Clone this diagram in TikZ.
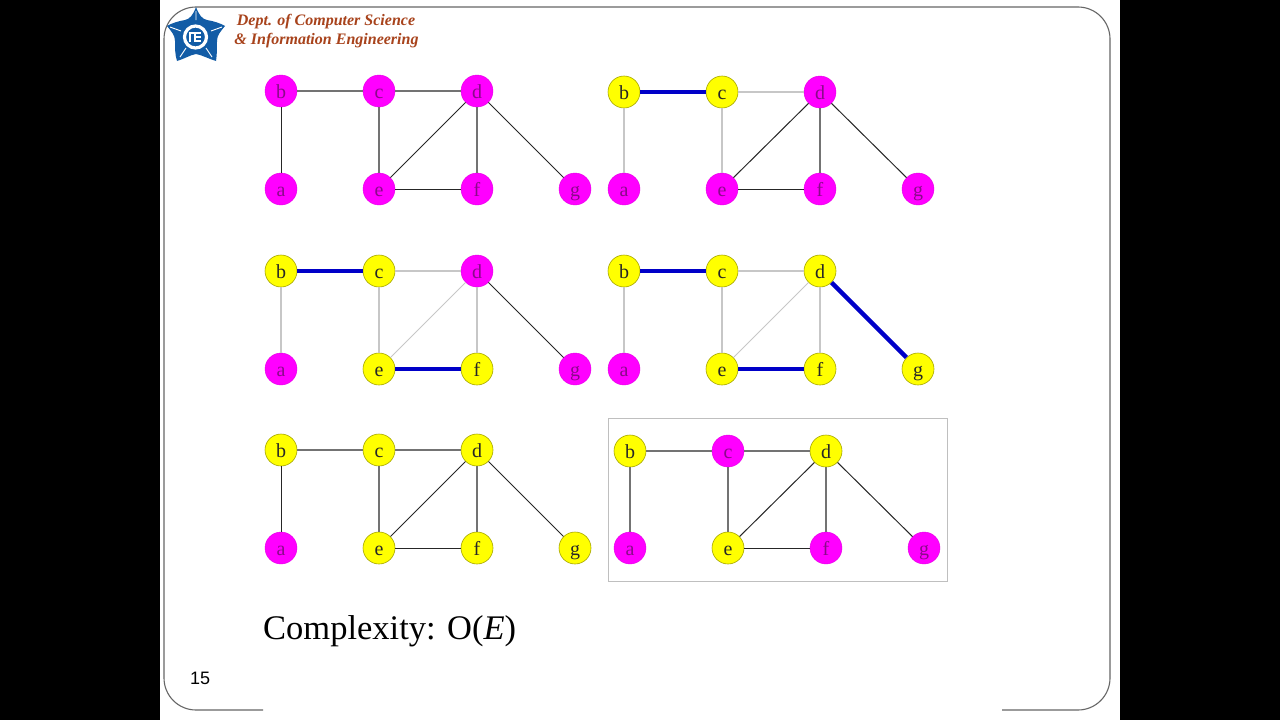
\documentclass[tikz,border=0pt]{standalone}
\usepackage{fontspec}
\setmainfont{Liberation Serif}
\newfontfamily\numfont{Liberation Sans}
\definecolor{vmag}{HTML}{FF00FF}
\definecolor{vyel}{HTML}{FFFF00}
\definecolor{vblue}{HTML}{0000C8}
\definecolor{magtext}{HTML}{8A0A8A}
\definecolor{logoblue}{HTML}{125CA6}
\definecolor{depttext}{HTML}{A8431C}
\tikzset{
  magv/.style={circle, fill=vmag, draw=vmag!90!black, line width=0.4pt, minimum size=32pt, inner sep=0pt, text=magtext, text height=14pt, text depth=0pt, font=\fontsize{20}{20}\selectfont},
  yelv/.style={circle, fill=vyel, draw=vyel!65!black, line width=0.6pt, minimum size=32pt, inner sep=0pt, text=black!85, text height=14pt, text depth=0pt, font=\fontsize{20}{20}\selectfont},
  darkedge/.style={draw=black!85, line width=1pt},
  greyedge/.style={draw=black!55, line width=1.5pt},
  paleedge/.style={draw=black!22, line width=1.2pt},
  blueedge/.style={draw=vblue, line width=4.5pt},
  depthead/.style={anchor=base, text=depttext, font=\fontsize{16}{16}\selectfont\bfseries\itshape}
}
\begin{document}
\begin{tikzpicture}[x=1pt,y=-1pt]
\useasboundingbox (0,0) rectangle (1280,720);
%--- PAGE ---
\fill[white] (0,0) rectangle (1280,720);
\fill[black] (0,0) rectangle (160,720);
\fill[black] (1120,0) rectangle (1280,720);
\draw[black!60, line width=1.1pt, rounded corners=32pt] (263,710) -- (164,710) -- (164,7) -- (1110,7) -- (1110,710) -- (1002,710);

%--- LOGO ---
\fill[logoblue] (196,7) .. controls (199,15) and (202,19) .. (207,20)
  .. controls (213,21) and (220,23) .. (225,26)
  .. controls (221,31) and (217,35) .. (217,41)
  .. controls (217,48) and (217,55) .. (216,61)
  .. controls (209,59) and (202,55) .. (196,54)
  .. controls (190,55) and (184,59) .. (177,61)
  .. controls (175,55) and (175,48) .. (175,41)
  .. controls (175,35) and (171,31) .. (167,26)
  .. controls (172,23) and (179,21) .. (185,20)
  .. controls (190,19) and (193,15) .. (196,7) -- cycle;
\draw[white, line width=0.9pt] (196,11) -- (196,20) (222,27) -- (211,31) (212,57) -- (206,48) (180,57) -- (186,48) (170,27) -- (181,31);
\draw[white, line width=3.2pt] (195.5,37) circle (11);
\draw[white, line width=1.2pt] (190,42) -- (190,33) -- (195,33) -- (195,41) -- (201,41) (196,33) -- (201,33) (196,37) -- (201,37);

%--- HEADER ---
\node[depthead] (dept) at (326,25) {Dept. of Computer Science};
\node[depthead] (info) at (326.5,44) {\& Information Engineering};

%--- GRAPH 1 ---
\node[magv] (b1) at (281,91) {b};
\node[magv] (c1) at (379,91) {c};
\node[magv] (d1) at (477,91) {d};
\node[magv] (a1) at (281,189) {a};
\node[magv] (e1) at (379,189) {e};
\node[magv] (f1) at (477,189) {f};
\node[magv] (g1) at (575,189) {g};
\draw[greyedge] (b1) -- (c1);
\draw[greyedge] (c1) -- (d1);
\draw[darkedge] (b1) -- (a1);
\draw[greyedge] (c1) -- (e1);
\draw[darkedge] (e1) -- (d1);
\draw[greyedge] (d1) -- (f1);
\draw[darkedge] (e1) -- (f1);
\draw[darkedge] (d1) -- (g1);

%--- GRAPH 2 ---
\node[yelv] (b2) at (624,92) {b};
\node[yelv] (c2) at (722,92) {c};
\node[magv] (d2) at (820,92) {d};
\node[magv] (a2) at (624,189) {a};
\node[magv] (e2) at (722,189) {e};
\node[magv] (f2) at (820,189) {f};
\node[magv] (g2) at (918,189) {g};
\draw[blueedge] (b2) -- (c2);
\draw[paleedge] (c2) -- (d2);
\draw[paleedge] (b2) -- (a2);
\draw[paleedge] (c2) -- (e2);
\draw[darkedge] (e2) -- (d2);
\draw[greyedge] (d2) -- (f2);
\draw[darkedge] (e2) -- (f2);
\draw[darkedge] (d2) -- (g2);

%--- GRAPH 3 ---
\node[yelv] (b3) at (281,271) {b};
\node[yelv] (c3) at (379,271) {c};
\node[magv] (d3) at (477,271) {d};
\node[magv] (a3) at (281,369) {a};
\node[yelv] (e3) at (379,369) {e};
\node[yelv] (f3) at (477,369) {f};
\node[magv] (g3) at (575,369) {g};
\draw[blueedge] (b3) -- (c3);
\draw[paleedge] (c3) -- (d3);
\draw[paleedge] (b3) -- (a3);
\draw[paleedge] (c3) -- (e3);
\draw[paleedge, line width=0.8pt] (e3) -- (d3);
\draw[paleedge] (d3) -- (f3);
\draw[blueedge] (e3) -- (f3);
\draw[darkedge] (d3) -- (g3);

%--- GRAPH 4 ---
\node[yelv] (b4) at (624,271) {b};
\node[yelv] (c4) at (722,271) {c};
\node[yelv] (d4) at (820,271) {d};
\node[magv] (a4) at (624,369) {a};
\node[yelv] (e4) at (722,369) {e};
\node[yelv] (f4) at (820,369) {f};
\node[yelv] (g4) at (918,369) {g};
\draw[blueedge] (b4) -- (c4);
\draw[paleedge] (c4) -- (d4);
\draw[paleedge] (b4) -- (a4);
\draw[paleedge] (c4) -- (e4);
\draw[paleedge, line width=0.8pt] (e4) -- (d4);
\draw[paleedge] (d4) -- (f4);
\draw[blueedge] (e4) -- (f4);
\draw[blueedge] (d4) -- (g4);

%--- GRAPH 5 ---
\node[yelv] (b5) at (281,450) {b};
\node[yelv] (c5) at (379,450) {c};
\node[yelv] (d5) at (477,450) {d};
\node[magv] (a5) at (281,548) {a};
\node[yelv] (e5) at (379,548) {e};
\node[yelv] (f5) at (477,548) {f};
\node[yelv] (g5) at (575,548) {g};
\draw[greyedge] (b5) -- (c5);
\draw[greyedge] (c5) -- (d5);
\draw[darkedge] (b5) -- (a5);
\draw[greyedge] (c5) -- (e5);
\draw[darkedge] (e5) -- (d5);
\draw[greyedge] (d5) -- (f5);
\draw[darkedge] (e5) -- (f5);
\draw[darkedge] (d5) -- (g5);

%--- GRAPH 6 (boxed) ---
\draw[black!25, line width=1pt] (608,418) rectangle (947,581);
\node[yelv] (b6) at (630,451) {b};
\node[magv] (c6) at (728,451) {c};
\node[yelv] (d6) at (826,451) {d};
\node[magv] (a6) at (630,548) {a};
\node[yelv] (e6) at (728,548) {e};
\node[magv] (f6) at (826,548) {f};
\node[magv] (g6) at (924,548) {g};
\draw[greyedge] (b6) -- (c6);
\draw[greyedge] (c6) -- (d6);
\draw[greyedge] (b6) -- (a6);
\draw[greyedge] (c6) -- (e6);
\draw[darkedge] (e6) -- (d6);
\draw[greyedge] (d6) -- (f6);
\draw[darkedge] (e6) -- (f6);
\draw[darkedge] (d6) -- (g6);

%--- FOOTER ---
\node[anchor=base west, inner sep=0pt, font=\fontsize{34.5}{34.5}\selectfont] (complexity) at (263,639) {Complexity: O(\textit{E})};
\node[anchor=base west, inner sep=0pt, font=\fontsize{18}{18}\selectfont\numfont] (pagenum) at (190,684) {15};
\end{tikzpicture}
\end{document}
